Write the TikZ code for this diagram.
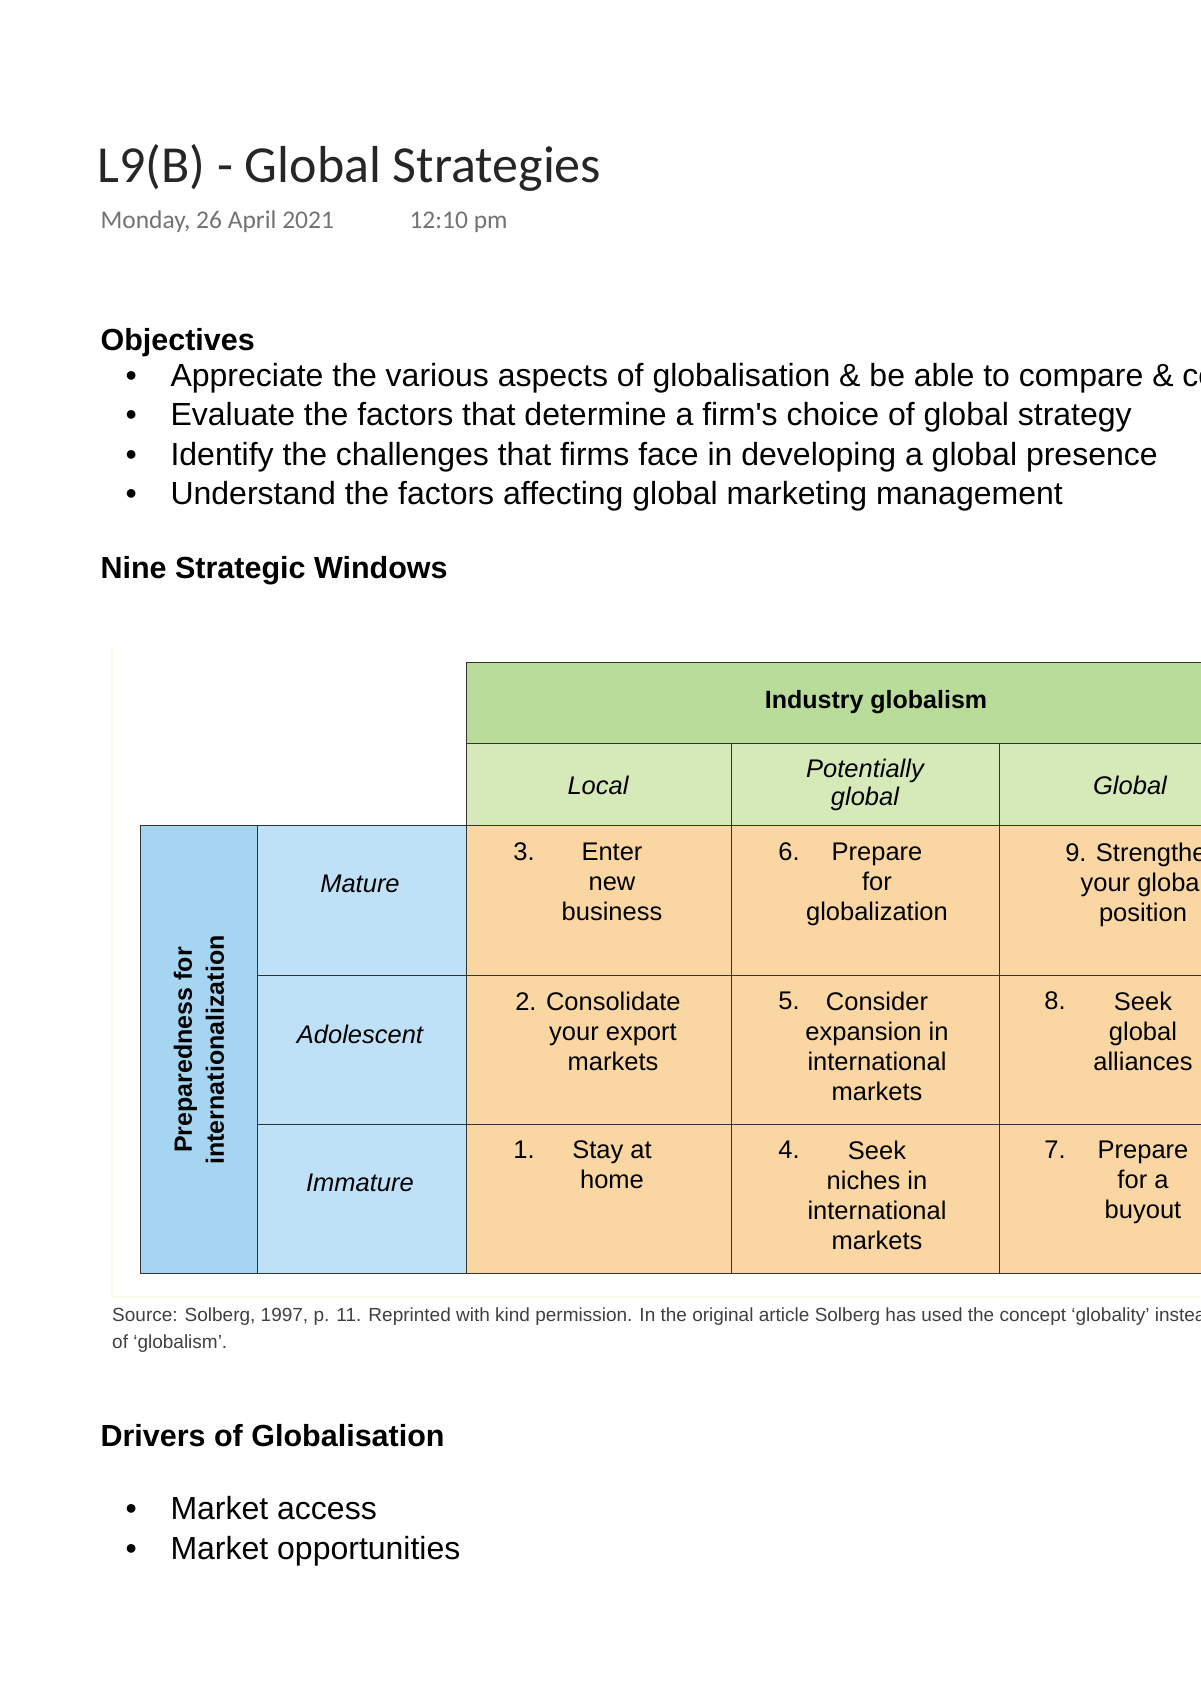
\documentclass[tikz,border=0pt]{standalone}
\usepackage{fontspec}
\setmainfont{Liberation Sans}[Ligatures=ResetAll]
\newfontfamily\calib{Carlito}
\definecolor{hdr}{HTML}{B9DC9B}
\definecolor{sub}{HTML}{D6E9B8}
\definecolor{cell}{HTML}{F9D6A2}
\definecolor{bdark}{HTML}{A6D5F2}
\definecolor{blight}{HTML}{BFE1F7}
\definecolor{frm}{HTML}{FBFBE6}
\begin{document}
\begin{tikzpicture}[x=1pt,y=-1pt,
  bl/.style={anchor=base west,font=\fontsize{32}{34}\selectfont},
  hd/.style={anchor=base west,font=\fontsize{30.5}{33}\selectfont\bfseries},
  ct/.style={align=center,font=\fontsize{25.5}{30}\selectfont,anchor=north},
  it/.style={font=\fontsize{25.5}{28}\selectfont\itshape,align=center},
  grid/.style={draw=black!80,line width=1pt}]
\useasboundingbox (0,0) rectangle (1200,1698);
\fill[white] (0,0) rectangle (1200,1698);
\node[anchor=base west,font=\calib\fontsize{52}{56}\selectfont,text=black!85] (title) at (94,182) {L9(B) - Global Strategies};
\node[anchor=base west,font=\calib\fontsize{25.5}{28}\selectfont,text=black!55] (date) at (97,228) {Monday, 26 April 2021};
\node[anchor=base west,font=\calib\fontsize{25.5}{28}\selectfont,text=black!55] (time) at (406,228) {12:10 pm};
\node[hd] (obj) at (97,350) {Objectives};
\foreach \t [count=\i] in {Appreciate the various aspects of globalisation \& be able to compare \& contrast,Evaluate the factors that determine a firm\textquotesingle s choice of global strategy,Identify the challenges that firms face in developing a global presence,Understand the factors affecting global marketing management}{
  \node[bl] (b\i) at (167,{386+39.5*(\i-1)}) {\t};
  \node[bl] (d\i) at (122,{386+39.5*(\i-1)}) {•};
}
\node[hd] (nsw) at (97,578) {Nine Strategic Windows};
\draw[frm,line width=1.5pt] (112,1297) -- (112,647);
\draw[frm,line width=1.5pt] (112,1297) -- (1200,1297);
\fill[hdr] (466,662) rectangle (1260,743);
\fill[sub] (466,743) rectangle (1260,825);
\fill[bdark] (140,825) rectangle (257,1273);
\fill[blight] (257,825) rectangle (466,1273);
\fill[cell] (466,825) rectangle (1260,1273);
\draw[grid] (466,662) -- (1260,662);
\draw[grid] (466,743) -- (1260,743);
\draw[grid] (140,825) -- (1260,825);
\draw[grid] (257,975) -- (1260,975);
\draw[grid] (257,1124) -- (1260,1124);
\draw[grid] (140,1273) -- (1260,1273);
\draw[grid] (466,662) -- (466,1273);
\draw[grid] (731,743) -- (731,1273);
\draw[grid] (999,743) -- (999,1273);
\draw[grid] (140,825) -- (140,1273);
\draw[grid] (257,825) -- (257,1273);
\node[font=\fontsize{25}{28}\selectfont\bfseries] (ig) at (876,702) {Industry globalism};
\node[it] (loc) at (598,785) {Local};
\node[it] (pot) at (865,785) {Potentially\\global};
\node[it] (glo) at (1130,785) {Global};
\node[it] (mat) at (360,884) {Mature};
\node[it] (ado) at (360,1034) {Adolescent};
\node[it] (imm) at (360,1183) {Immature};
\node[rotate=90,align=center,font=\fontsize{25}{32}\selectfont\bfseries] (prep) at (199,1050) {Preparedness for\\internationalization};
\node[ct] (c3) at (612,839) {Enter\\new\\business};
\node[ct] (n3) at (524,839) {3.};
\node[ct] (c6) at (877,839) {Prepare\\for\\globalization};
\node[ct] (n6) at (789,839) {6.};
\node[ct] (c9) at (1143,839) {9. Strengthen\\your global\\position};
\node[ct] (c2) at (598,988) {2. Consolidate\\\hspace*{30pt}your export\\\hspace*{30pt}markets};
\node[ct] (c5) at (877,988) {Consider\\expansion in\\international\\markets};
\node[ct] (n5) at (789,988) {5.};
\node[ct] (c8) at (1143,988) {Seek\\global\\alliances};
\node[ct] (n8) at (1055,988) {8.};
\node[ct] (c1) at (612,1137) {Stay at\\home};
\node[ct] (n1) at (524,1137) {1.};
\node[ct] (c4) at (877,1137) {Seek\\niches in\\international\\markets};
\node[ct] (n4) at (789,1137) {4.};
\node[ct] (c7) at (1143,1137) {Prepare\\for a\\buyout};
\node[ct] (n7) at (1055,1137) {7.};
\node[anchor=north west,inner sep=0pt,font=\fontsize{19}{27}\selectfont,text=black!75,align=left] (src) at (112,1308) {Source: Solberg, 1997, p. 11. Reprinted with kind permission. In the original article Solberg has used the concept ‘globality’ instead\\of ‘globalism’.};
\node[hd] (drv) at (97,1446) {Drivers of Globalisation};
\node[bl] (e1) at (167,1519) {Market access};
\node[bl] (f1) at (122,1519) {•};
\node[bl] (e2) at (167,1559) {Market opportunities};
\node[bl] (f2) at (122,1559) {•};
\end{tikzpicture}
\end{document}
